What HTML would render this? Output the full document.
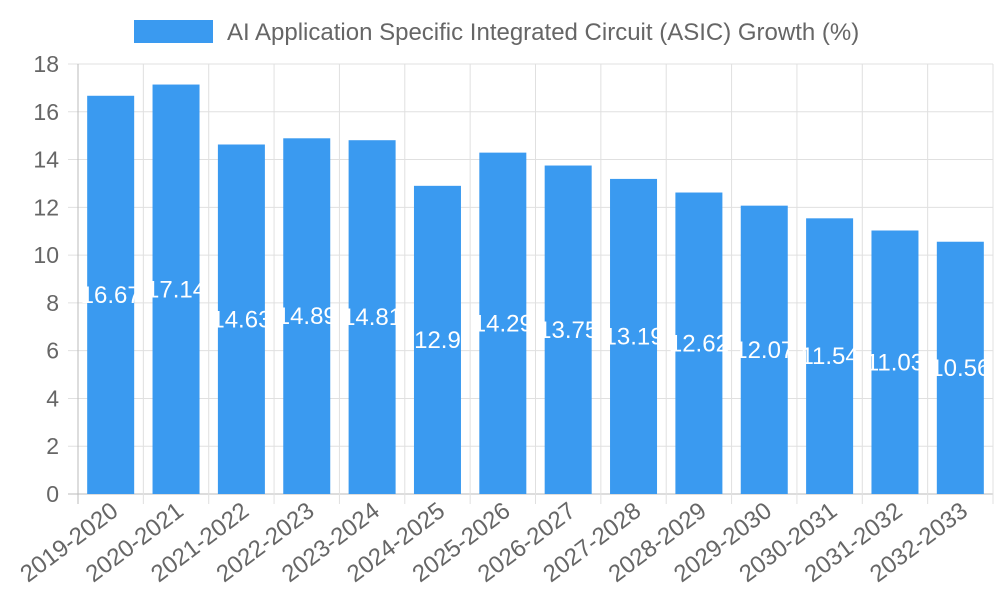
<!DOCTYPE html>
<html><head><meta charset="utf-8"><style>
body{margin:0;background:#fff;}
svg{display:block;font-family:"Liberation Sans",sans-serif;}
</style></head><body>
<svg id="chart" width="1000" height="600"></svg>
<script>
const categories=["2019-2020","2020-2021","2021-2022","2022-2023","2023-2024","2024-2025","2025-2026","2026-2027","2027-2028","2028-2029","2029-2030","2030-2031","2031-2032","2032-2033"];
const growthValues=[16.67,17.14,14.63,14.89,14.81,12.9,14.29,13.75,13.19,12.62,12.07,11.54,11.03,10.56];
const yTicks=[0,2,4,6,8,10,12,14,16,18];
const seriesName="AI Application Specific Integrated Circuit (ASIC) Growth (%)";

const NS="http://www.w3.org/2000/svg";
const svg=document.getElementById('chart');
const L=78,R=993,T=64,B=494,yMax=18;
const bw=(R-L)/categories.length;
const y=v=>B-(v/yMax)*(B-T);
const xc=i=>L+bw*(i+0.5);
function mk(tag,attrs,parent){const e=document.createElementNS(NS,tag);for(const k in attrs)e.setAttribute(k,attrs[k]);(parent||svg).appendChild(e);return e;}

// legend
const lg=mk('g',{});


mk('rect',{x:134,y:20,width:79,height:23,fill:'#3a9af0'},lg);
const lt=mk('text',{x:227,y:40,'font-size':24,fill:'#666'},lg);lt.textContent=seriesName;

// grid + y ticks
const grid=mk('g',{});


yTicks.forEach(t=>{
  mk('line',{x1:68,x2:R,y1:y(t),y2:y(t),stroke:t===0?'#bbb':'#e0e0e0','stroke-width':1},grid);
  const tx=mk('text',{x:59,y:y(t)+8,'font-size':23,fill:'#666','text-anchor':'end'},grid);
  
  
  tx.textContent=t;
});
for(let i=0;i<=categories.length;i++){
  const x=L+bw*i;
  mk('line',{x1:x,x2:x,y1:T,y2:B+10,stroke:i===0?'#bbb':'#e0e0e0','stroke-width':1},grid);
}

// bars
categories.forEach((c,i)=>{
  const v=growthValues[i];
  const r=mk('rect',{x:xc(i)-23.5,y:y(v),width:47,height:B-y(v),fill:'#3a9af0'});
  
  
  const lab=mk('text',{x:xc(i),y:(y(v)+B)/2+8,'font-size':24,fill:'#fff','text-anchor':'middle'});
  
  
  lab.textContent=v;
  const xl=mk('text',{x:0,y:0,'font-size':24,fill:'#666','text-anchor':'end',transform:`translate(${xc(i)+9},${B+20}) rotate(-37)`});
  
  
  xl.textContent=c;
});
</script>
</body></html>
